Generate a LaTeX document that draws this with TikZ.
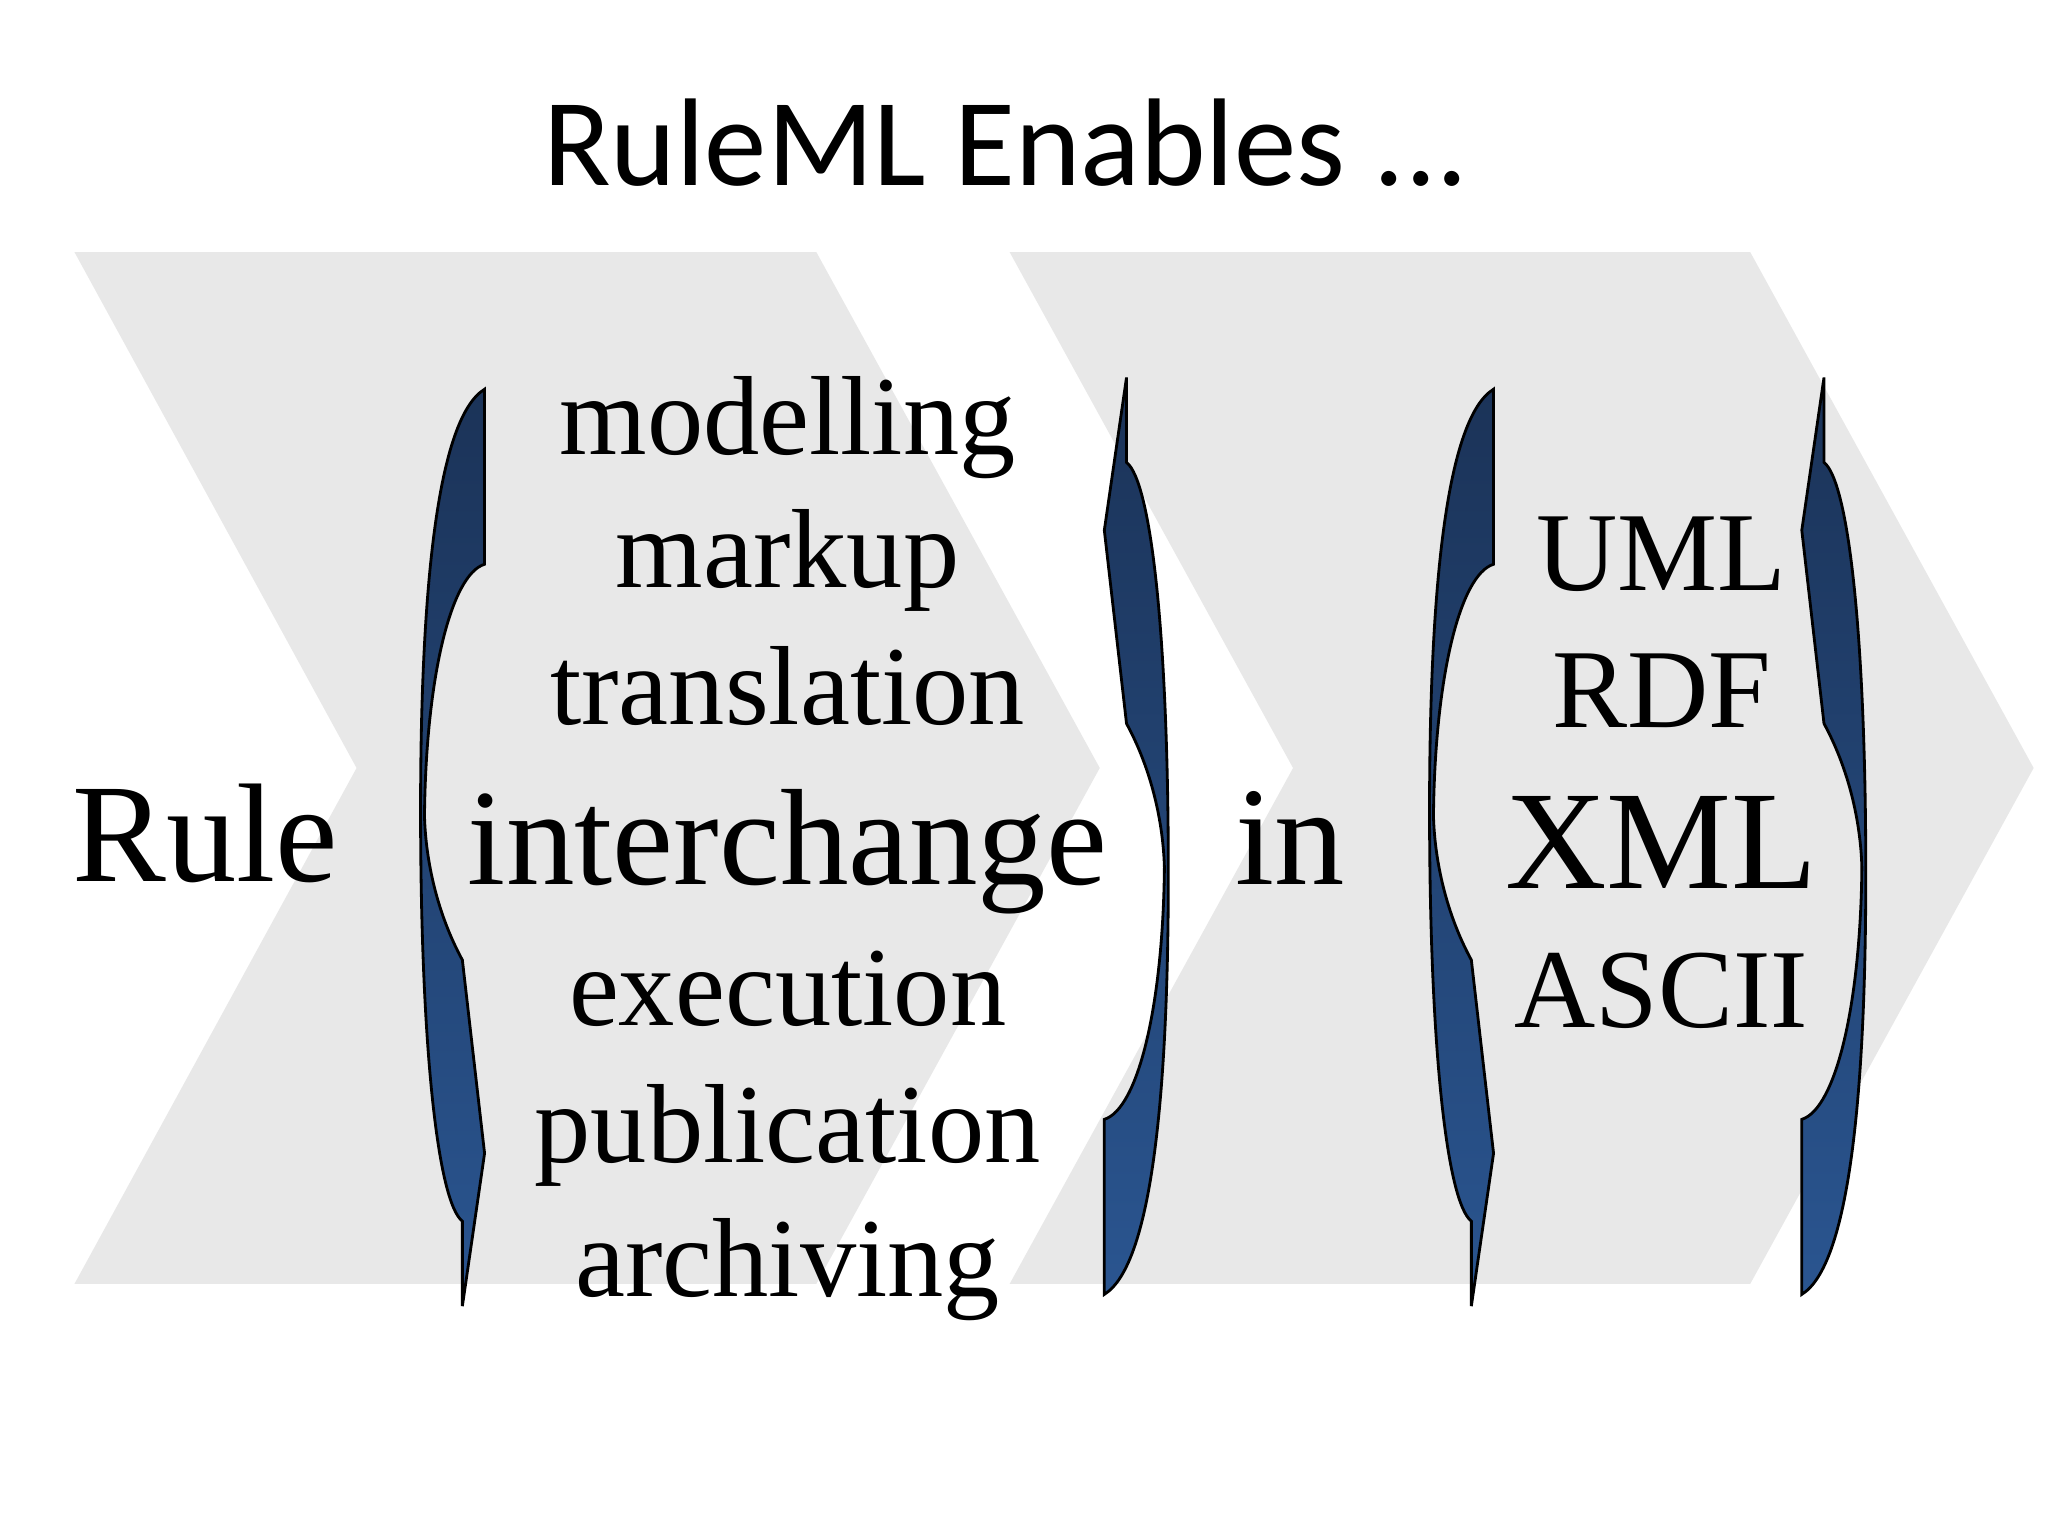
\documentclass[tikz,border=0pt]{standalone}
\usepackage{fontspec}
\setmainfont{Liberation Serif}
\newfontfamily\titlefont{Carlito}
\definecolor{bdark}{HTML}{1B3358}
\definecolor{blight}{HTML}{2A5590}
\begin{document}
\begin{tikzpicture}[x=0.01306cm,y=0.01306cm,
  chev/.style={fill=black!9,draw=none},
  brk/.style={draw=black,line width=0.8pt,top color=bdark,bottom color=blight},
  w/.style={anchor=base,font=\fontsize{32}{32}\selectfont},
  big/.style={anchor=base,font=\fontsize{39}{39}\selectfont}]
\useasboundingbox (0,0) rectangle (1568,-1176);
\fill[white] (0,0) rectangle (1568,-1176);
\fill[chev] (57,-193) -- (625,-193) -- (842,-588) -- (625,-983) -- (57,-983) -- (273,-588) -- cycle;
\fill[chev] (773,-193) -- (1340,-193) -- (1557,-588) -- (1340,-983) -- (773,-983) -- (990,-588) -- cycle;
\newcommand\brkpath{(24.5,351) .. controls (-11.5,329) and (-24.5,199) .. (-24.5,29) .. controls (-24.5,-151) and (-11.5,-271) .. (7.5,-286) -- (7.5,-351) -- (24.5,-234) -- (7.5,-86) .. controls (-11.5,-51) and (-20.5,-11) .. (-21.5,24) .. controls (-20.5,129) and (-1.5,209) .. (24.5,217) -- cycle}
\begin{scope}[shift={(346.5,-649)}]\path[brk] \brkpath;\end{scope}
\begin{scope}[shift={(870,-640)},rotate=180]\path[brk] \brkpath;\end{scope}
\begin{scope}[shift={(1119,-649)}]\path[brk] \brkpath;\end{scope}
\begin{scope}[shift={(1404,-640)},rotate=180]\path[brk] \brkpath;\end{scope}
\node[anchor=base,font=\titlefont\fontsize{35.5}{35.5}\selectfont] (title) at (770,-142) {RuleML Enables ...};
\node[big,font=\fontsize{40}{40}\selectfont] (rule) at (157,-675) {Rule};
\node[w] (m1) at (603,-348) {modelling};
\node[w] (m2) at (603,-450) {markup};
\node[w] (m3) at (603,-555) {translation};
\node[big] (m4) at (603,-677) {interchange};
\node[w] (m5) at (603,-785) {execution};
\node[w] (m6) at (603,-890) {publication};
\node[w] (m7) at (603,-993) {archiving};
\node[big,font=\fontsize{40}{40}\selectfont] (in) at (988,-677) {in};
\node[anchor=base,font=\fontsize{32}{32}\selectfont] (f1) at (1272,-452) {UML};
\node[anchor=base,font=\fontsize{32}{32}\selectfont] (f2) at (1272,-557) {RDF};
\node[big,font=\fontsize{40}{40}\selectfont] (f3) at (1272,-680) {XML};
\node[anchor=base,font=\fontsize{32}{32}\selectfont] (f4) at (1272,-787) {ASCII};
\end{tikzpicture}
\end{document}
